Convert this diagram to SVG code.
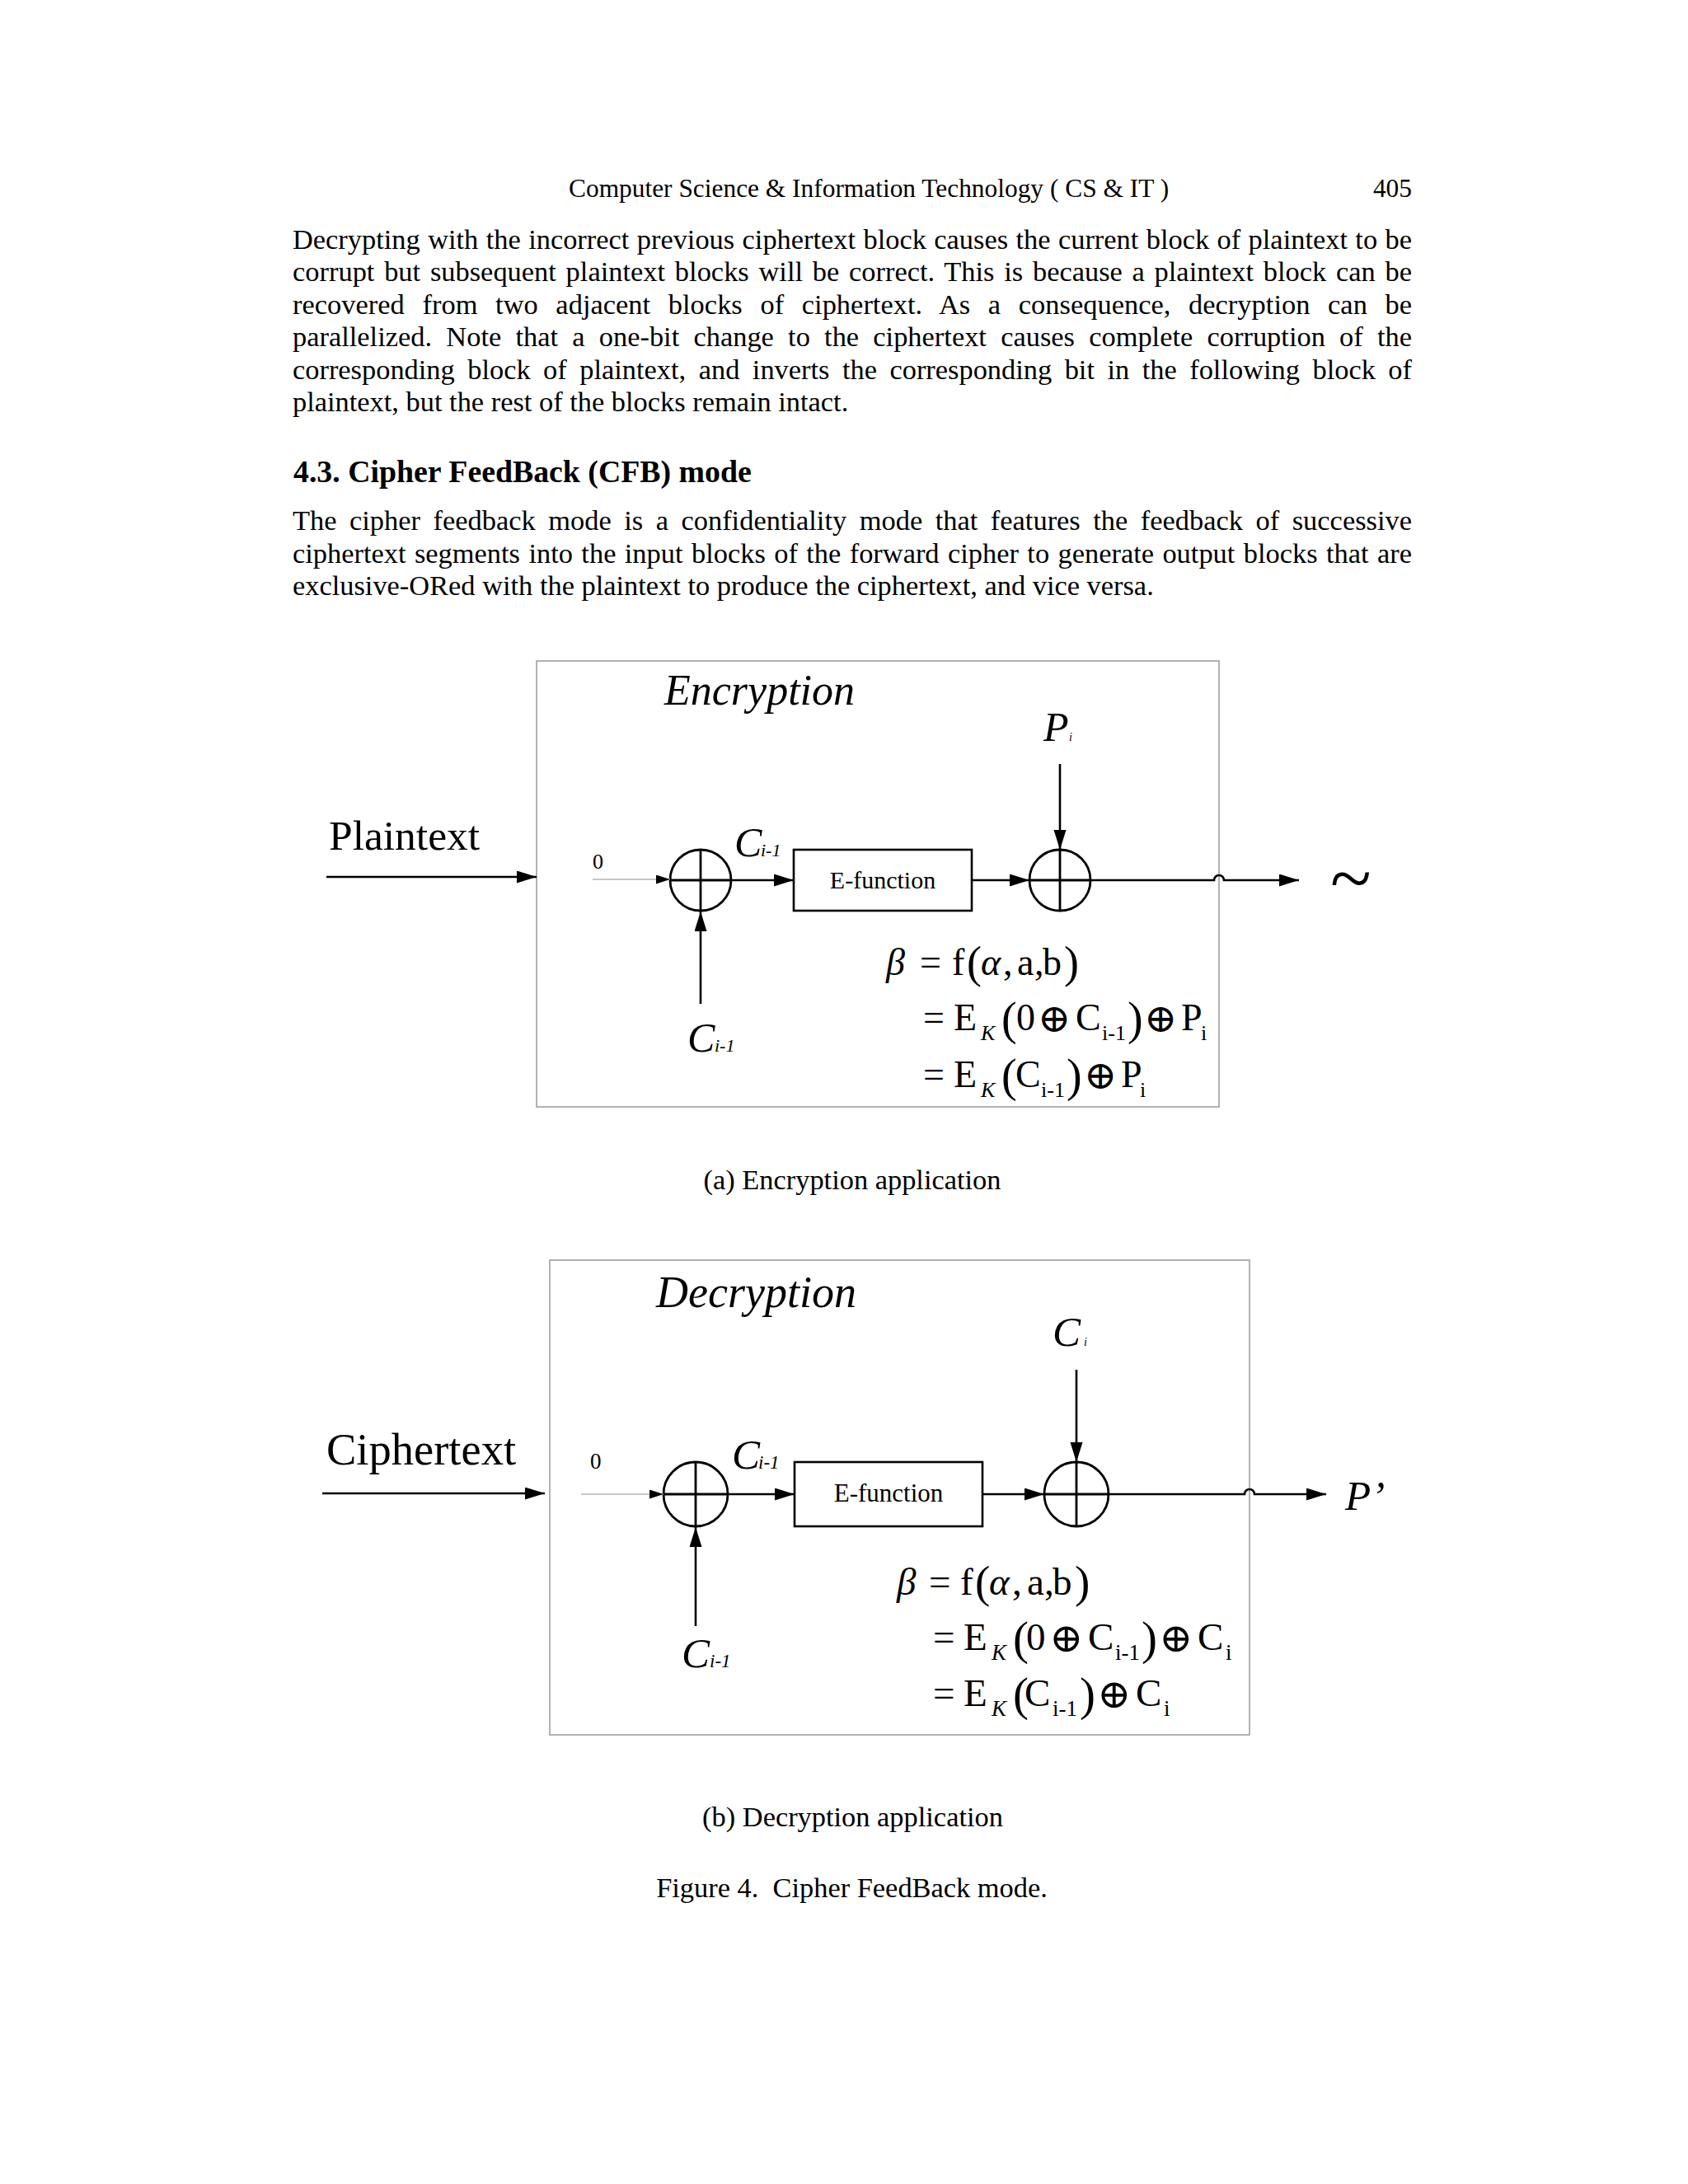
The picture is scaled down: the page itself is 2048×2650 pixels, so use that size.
<svg xmlns="http://www.w3.org/2000/svg" width="2048" height="2650" viewBox="0 0 2048 2650">
<defs>
<style>
.t{font-family:"Liberation Serif","Times New Roman",serif;fill:#000}
.it{font-style:italic}
.body{font-size:34.4px}
.hdr{font-size:31.4px}
.frame{fill:none;stroke:#999;stroke-width:1.5}
.ln{fill:none;stroke:#000;stroke-width:2.6}
.thin{fill:none;stroke:#b5b5b5;stroke-width:1.3}
.xor{fill:none;stroke:#000;stroke-width:2.8}
.box{fill:#fff;stroke:#000;stroke-width:2.6}
.op{font-family:"DejaVu Serif","Liberation Serif",serif}
</style>
<marker id="ah" markerUnits="userSpaceOnUse" markerWidth="26" markerHeight="16" refX="24" refY="7.5" orient="auto">
<path d="M0,0 L24,7.5 L0,15 z" fill="#000"/>
</marker>
<marker id="ahs" markerUnits="userSpaceOnUse" markerWidth="19" markerHeight="12" refX="17" refY="5.5" orient="auto">
<path d="M0,0 L17,5.5 L0,11 z" fill="#000"/>
</marker>
</defs>
<rect width="2048" height="2650" fill="#fff"/>

<g id="page-text" class="t">
<text class="hdr" x="690" y="239">Computer Science &amp; Information Technology ( CS &amp; IT )</text>
<text class="hdr" x="1713" y="239" text-anchor="end">405</text>
<text class="body" x="355" y="301.5" word-spacing="0.8" textLength="1358" lengthAdjust="spacing">Decrypting with the incorrect previous ciphertext block causes the current block of plaintext to be</text>
<text class="body" x="355" y="341" word-spacing="3.1" textLength="1358" lengthAdjust="spacing">corrupt but subsequent plaintext blocks will be correct. This is because a plaintext block can be</text>
<text class="body" x="355" y="380.5" word-spacing="13" textLength="1358" lengthAdjust="spacing">recovered from two adjacent blocks of ciphertext. As a consequence, decryption can be</text>
<text class="body" x="355" y="420" word-spacing="8.6" textLength="1358" lengthAdjust="spacing">parallelized. Note that a one-bit change to the ciphertext causes complete corruption of the</text>
<text class="body" x="355" y="459.5" word-spacing="6.9" textLength="1358" lengthAdjust="spacing">corresponding block of plaintext, and inverts the corresponding bit in the following block of</text>
<text class="body" x="355" y="499">plaintext, but the rest of the blocks remain intact.</text>
<text x="356" y="585" font-size="37.8" font-weight="bold">4.3. Cipher FeedBack (CFB) mode</text>
<text class="body" x="355" y="643" word-spacing="6.9" textLength="1358" lengthAdjust="spacing">The cipher feedback mode is a confidentiality mode that features the feedback of successive</text>
<text class="body" x="355" y="682.5" word-spacing="1.8" textLength="1358" lengthAdjust="spacing">ciphertext segments into the input blocks of the forward cipher to generate output blocks that are</text>
<text class="body" x="355" y="722">exclusive-ORed with the plaintext to produce the ciphertext, and vice versa.</text>
<text class="body" x="1034" y="1443" text-anchor="middle">(a) Encryption application</text>
<text class="body" x="1034.5" y="2216" text-anchor="middle">(b) Decryption application</text>
<text class="body" x="1033.5" y="2302" text-anchor="middle" style="white-space:pre">Figure 4.  Cipher FeedBack mode.</text>
</g>

<!-- ================= Encryption ================= -->
<g id="enc-frame">
<rect class="frame" x="651" y="802" width="828" height="541"/>
<text class="t it" x="806" y="855" font-size="52">Encryption</text>
</g>
<g id="enc-plaintext" class="t"><text x="399" y="1031" font-size="51.5">Plaintext</text></g>
<g id="enc-zero" class="t"><text x="719" y="1054" font-size="26">0</text></g>
<g id="enc-xor1">
<circle class="xor" cx="850" cy="1068" r="37"/>
<path class="xor" d="M813,1068 H887 M850,1031 V1105"/>
</g>
<g id="enc-efunc">
<rect class="box" x="963" y="1031" width="216" height="74"/>
<text class="t" x="1071" y="1078" font-size="30" text-anchor="middle">E-function</text>
</g>
<g id="enc-xor2">
<circle class="xor" cx="1286" cy="1068" r="37"/>
<path class="xor" d="M1249,1068 H1323 M1286,1031 V1105"/>
</g>
<g id="enc-ci1-top" class="t it"><text x="891" y="1039" font-size="50">C</text><text x="923" y="1039" font-size="22">i-1</text></g>
<g id="enc-ci1-bottom" class="t it"><text x="834" y="1276" font-size="50">C</text><text x="867" y="1276" font-size="22">i-1</text></g>
<g id="enc-pi" class="t it"><text x="1266" y="899" font-size="50">P</text><text x="1297" y="899" font-size="14">i</text></g>
<g id="enc-tilde" class="t"><text x="1614" y="1096" font-size="92">~</text></g>
<g id="enc-formula" class="t" font-size="46">
<text y="1183"><tspan x="1075" class="it">β</tspan><tspan x="1116">=</tspan><tspan x="1155">f</tspan><tspan x="1173" font-size="54" dy="3">(</tspan><tspan x="1190" class="it" dy="-3">α</tspan><tspan x="1217">,</tspan><tspan x="1234">a</tspan><tspan x="1255">,</tspan><tspan x="1265">b</tspan><tspan x="1291" font-size="54" dy="3">)</tspan></text>
<text y="1250"><tspan x="1120">=</tspan><tspan x="1157">E</tspan><tspan x="1190" y="1262" class="it" font-size="26">K</tspan><tspan x="1215" y="1255" font-size="56">(</tspan><tspan x="1233" y="1250">0</tspan><tspan x="1259" y="1252" class="op" font-size="48">⊕</tspan><tspan x="1305" y="1250">C</tspan><tspan x="1337" y="1262" font-size="26">i-1</tspan><tspan x="1368" y="1255" font-size="56">)</tspan><tspan x="1388" y="1252" class="op" font-size="48">⊕</tspan><tspan x="1433" y="1250">P</tspan><tspan x="1457" y="1262" font-size="26">i</tspan></text>
<text y="1319"><tspan x="1120">=</tspan><tspan x="1157">E</tspan><tspan x="1190" y="1331" class="it" font-size="26">K</tspan><tspan x="1215" y="1324" font-size="56">(</tspan><tspan x="1232" y="1319">C</tspan><tspan x="1263" y="1331" font-size="26">i-1</tspan><tspan x="1294" y="1324" font-size="56">)</tspan><tspan x="1315" y="1321" class="op" font-size="48">⊕</tspan><tspan x="1360" y="1319">P</tspan><tspan x="1383" y="1331" font-size="26">i</tspan></text>
</g>

<g id="enc-connectors">
<line class="ln" x1="396" y1="1064" x2="651" y2="1064" marker-end="url(#ah)"/>
<line class="thin" x1="719" y1="1067" x2="813" y2="1067" marker-end="url(#ahs)"/>
<line class="ln" x1="887" y1="1068" x2="963" y2="1068" marker-end="url(#ah)"/>
<line class="ln" x1="850" y1="1218" x2="850" y2="1106" marker-end="url(#ah)"/>
<line class="ln" x1="1179" y1="1068" x2="1249" y2="1068" marker-end="url(#ah)"/>
<line class="ln" x1="1286" y1="927" x2="1286" y2="1031" marker-end="url(#ah)"/>
<path class="ln" d="M1323,1068 H1473 A6,6 0 0 1 1485,1068 H1576" marker-end="url(#ah)"/>
</g>

<!-- ================= Decryption ================= -->
<g id="dec-frame">
<rect class="frame" x="667" y="1529" width="849" height="576"/>
<text class="t it" x="796" y="1586" font-size="54">Decryption</text>
</g>
<g id="dec-ciphertext" class="t"><text x="396" y="1777" font-size="54.5">Ciphertext</text></g>
<g id="dec-zero" class="t"><text x="716" y="1782" font-size="27">0</text></g>
<g id="dec-xor1">
<circle class="xor" cx="844" cy="1813" r="39"/>
<path class="xor" d="M805,1813 H883 M844,1774 V1852"/>
</g>
<g id="dec-efunc">
<rect class="box" x="964" y="1774" width="228" height="78"/>
<text class="t" x="1078" y="1822" font-size="31" text-anchor="middle">E-function</text>
</g>
<g id="dec-xor2">
<circle class="xor" cx="1306" cy="1813" r="39"/>
<path class="xor" d="M1267,1813 H1345 M1306,1774 V1852"/>
</g>
<g id="dec-ci1-top" class="t it"><text x="888" y="1782" font-size="51">C</text><text x="920" y="1782" font-size="23">i-1</text></g>
<g id="dec-ci1-bottom" class="t it"><text x="827" y="2023" font-size="51">C</text><text x="861" y="2023" font-size="23">i-1</text></g>
<g id="dec-ci" class="t it"><text x="1277" y="1633" font-size="51">C</text><text x="1315" y="1633" font-size="14">i</text></g>
<g id="dec-pprime" class="t it"><text x="1632" y="1832" font-size="51">P’</text></g>
<g id="dec-formula" class="t" font-size="47">
<text y="1935"><tspan x="1088" class="it">β</tspan><tspan x="1127">=</tspan><tspan x="1165">f</tspan><tspan x="1183" font-size="55" dy="3">(</tspan><tspan x="1200" class="it" dy="-3">α</tspan><tspan x="1228">,</tspan><tspan x="1246">a</tspan><tspan x="1267">,</tspan><tspan x="1277">b</tspan><tspan x="1304" font-size="55" dy="3">)</tspan></text>
<text y="2002"><tspan x="1132">=</tspan><tspan x="1169">E</tspan><tspan x="1203" y="2014" class="it" font-size="27">K</tspan><tspan x="1229" y="2007" font-size="57">(</tspan><tspan x="1245" y="2002">0</tspan><tspan x="1273" y="2004" class="op" font-size="49">⊕</tspan><tspan x="1320" y="2002">C</tspan><tspan x="1353" y="2014" font-size="27">i-1</tspan><tspan x="1385" y="2007" font-size="57">)</tspan><tspan x="1406" y="2004" class="op" font-size="49">⊕</tspan><tspan x="1453" y="2002">C</tspan><tspan x="1487" y="2014" font-size="27">i</tspan></text>
<text y="2070"><tspan x="1132">=</tspan><tspan x="1169">E</tspan><tspan x="1203" y="2082" class="it" font-size="27">K</tspan><tspan x="1229" y="2075" font-size="57">(</tspan><tspan x="1243" y="2070">C</tspan><tspan x="1277" y="2082" font-size="27">i-1</tspan><tspan x="1310" y="2075" font-size="57">)</tspan><tspan x="1331" y="2072" class="op" font-size="49">⊕</tspan><tspan x="1378" y="2070">C</tspan><tspan x="1412" y="2082" font-size="27">i</tspan></text>
</g>

<g id="dec-connectors">
<line class="ln" x1="391" y1="1812" x2="661" y2="1812" marker-end="url(#ah)"/>
<line class="thin" x1="705" y1="1813" x2="805" y2="1813" marker-end="url(#ahs)"/>
<line class="ln" x1="883" y1="1813" x2="964" y2="1813" marker-end="url(#ah)"/>
<line class="ln" x1="844" y1="1973" x2="844" y2="1853" marker-end="url(#ah)"/>
<line class="ln" x1="1192" y1="1813" x2="1267" y2="1813" marker-end="url(#ah)"/>
<line class="ln" x1="1306" y1="1662" x2="1306" y2="1774" marker-end="url(#ah)"/>
<path class="ln" d="M1345,1813 H1510 A6,6 0 0 1 1522,1813 H1609" marker-end="url(#ah)"/>
</g>
</svg>
